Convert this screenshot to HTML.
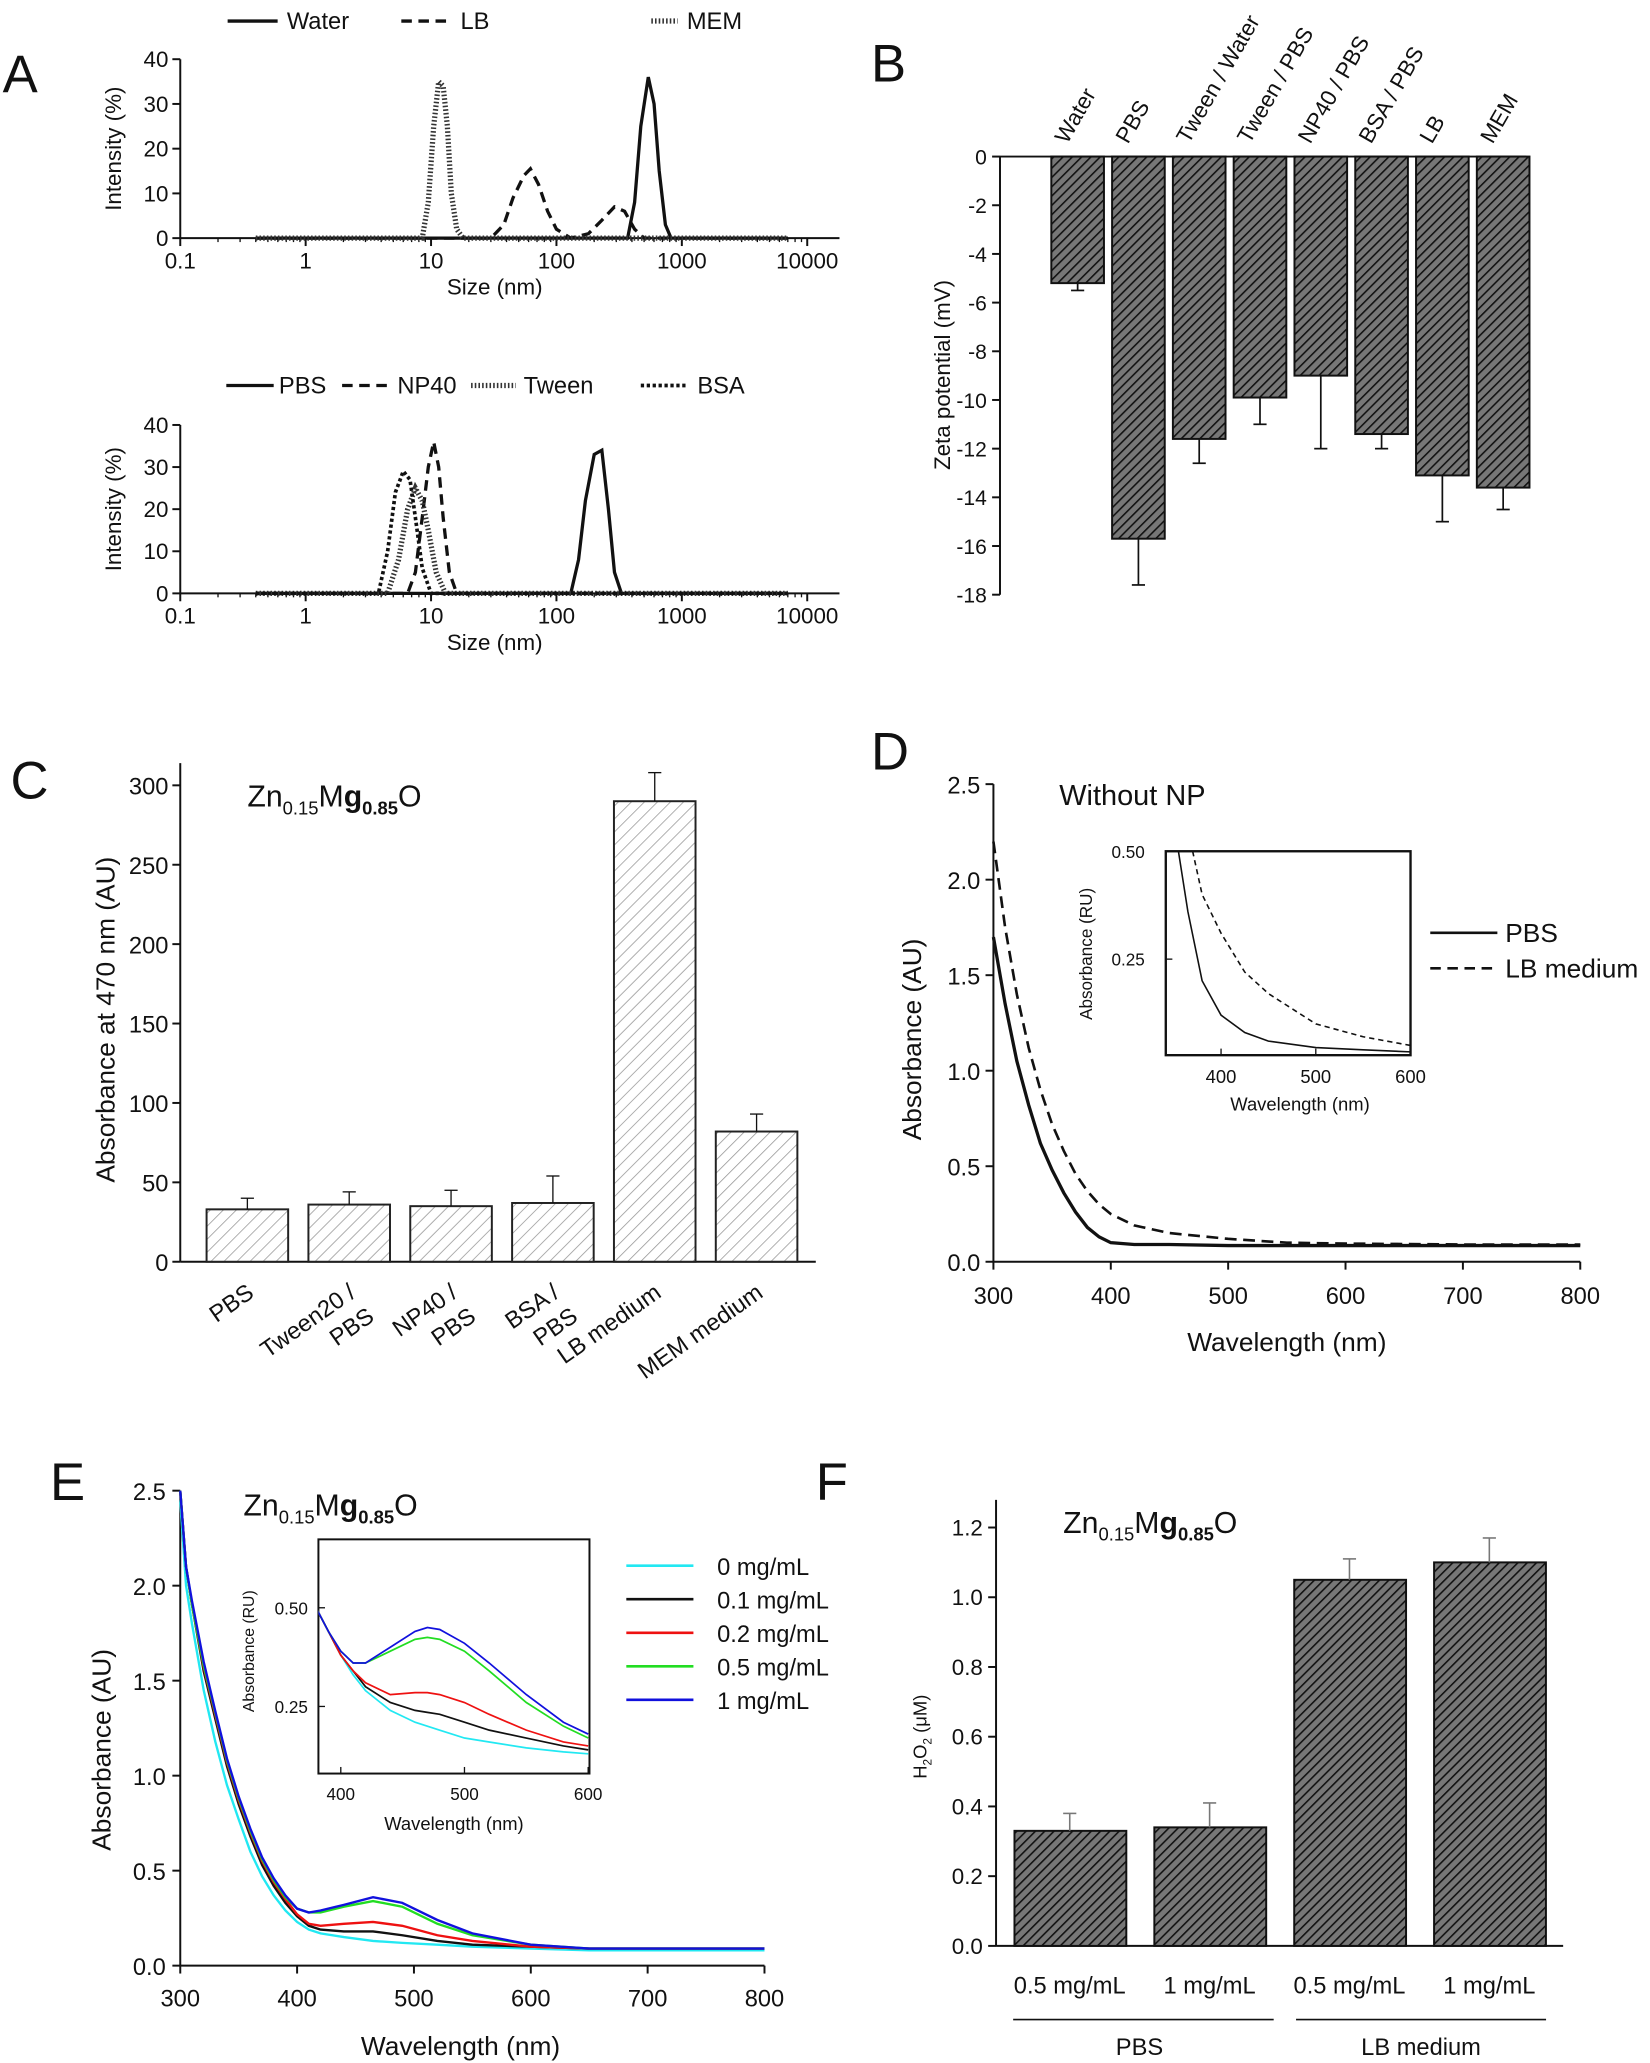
<!DOCTYPE html>
<html><head><meta charset="utf-8">
<style>
html,body{margin:0;padding:0;background:#fff;}
svg{display:block;font-family:"Liberation Sans",Arial,sans-serif;}
</style></head>
<body>
<svg id="fig" width="1650" height="2063" viewBox="0 0 1254 1568" preserveAspectRatio="none" xmlns="http://www.w3.org/2000/svg">
<defs>
<pattern id="hatchDark" patternUnits="userSpaceOnUse" width="5" height="5" patternTransform="rotate(45)">
<rect width="5" height="5" fill="#777"/><line x1="0" y1="0" x2="0" y2="5" stroke="#111" stroke-width="2.4"/></pattern>
<pattern id="hatchLight" patternUnits="userSpaceOnUse" width="7" height="7" patternTransform="rotate(45)">
<rect width="7" height="7" fill="#fff"/><line x1="0" y1="0" x2="0" y2="7" stroke="#999" stroke-width="1.2"/></pattern>
<clipPath id="clipD"><rect x="886" y="647" width="186" height="155"/></clipPath>
<clipPath id="clipE"><rect x="242" y="1170" width="206" height="178"/></clipPath>
</defs>
<g font-size="40" fill="#111">
<text x="2" y="70">A</text>
<text x="662" y="62">B</text>
<text x="8" y="607">C</text>
<text x="662" y="585">D</text>
<text x="38" y="1140">E</text>
<text x="620" y="1140">F</text>
</g>
<g id="root"></g>
</svg>
<script>
// ---------- DATA ----------
const aWaterSize=[0.4,370,420,470,540,600,660,740,820,900,7000];
const aWaterVal=[0,0,8,25,36,30,15,3,0,0,0];
const aLBSize=[0.4,30,38,45,55,62,72,85,100,130,180,230,290,350,420,500,7000];
const aLBVal=[0,0,3,9,14,15.5,12,6,2,0,1,4,7,6,2,0,0];
const aMEMSize=[0.4,8.5,9.5,10.5,11.5,12.5,13.5,14.5,16,18,7000];
const aMEMVal=[0,0,8,25,35,34,25,10,2,0,0];
const a2PBSSize=[0.4,130,150,170,200,230,260,290,330,7000];
const a2PBSVal=[0,0,8,22,33,34,20,5,0,0];
const a2NPSize=[0.4,6.5,7.5,8.5,9.5,10.5,11.5,12.5,14,16,7000];
const a2NPVal=[0,0,5,18,30,36,30,18,5,0,0];
const a2TwSize=[0.4,4.5,5.5,6.5,7.5,8.5,9.5,11,13,7000];
const a2TwVal=[0,0,8,20,25,22,15,5,0,0];
const a2BSASize=[0.4,3.8,4.5,5.2,6,6.8,7.5,8.5,10,7000];
const a2BSAVal=[0,0,10,24,29,27,18,6,0,0];
const aSizeTicks=[0.1,1,10,100,1000,10000];
const aSizeTickLabels=["0.1","1","10","100","1000","10000"];
const aIntTicks=[0,10,20,30,40];
const bCats=["Water","PBS","Tween / Water","Tween / PBS","NP40 / PBS","BSA / PBS","LB","MEM"];
const bVals=[-5.2,-15.7,-11.6,-9.9,-9.0,-11.4,-13.1,-13.6];
const bErr=[0.3,1.9,1.0,1.1,3.0,0.6,1.9,0.9];
const bTicks=[0,-2,-4,-6,-8,-10,-12,-14,-16,-18];
const cCats=[["PBS"],["Tween20 /","PBS"],["NP40 /","PBS"],["BSA /","PBS"],["LB medium"],["MEM medium"]];
const cVals=[33,36,35,37,290,82];
const cErr=[7,8,10,17,18,11];
const cTicks=[0,50,100,150,200,250,300];
const dWl=[300,310,320,330,340,350,360,370,380,390,400,420,450,500,550,600,700,800];
const dPBS=[1.7,1.35,1.05,0.82,0.62,0.48,0.36,0.26,0.18,0.13,0.1,0.09,0.09,0.085,0.085,0.085,0.085,0.085];
const dLB=[2.2,1.75,1.4,1.12,0.9,0.72,0.58,0.46,0.37,0.3,0.25,0.19,0.15,0.12,0.1,0.095,0.09,0.09];
const dInsWl=[340,350,355,365,380,400,425,450,500,550,600];
const dInsPBS=[0.9,0.6,0.5,0.36,0.2,0.12,0.08,0.06,0.045,0.04,0.035];
const dInsLB=[1.2,0.8,0.66,0.55,0.4,0.31,0.22,0.17,0.1,0.07,0.05];
const dYTicks=[0,0.5,1,1.5,2,2.5];
const dXTicks=[300,400,500,600,700,800];
const eWl=[300,305,310,320,330,340,350,360,370,380,390,400,410,420,440,465,490,520,550,600,650,700,800];
const e0=[2.45,2.0,1.8,1.45,1.18,0.95,0.77,0.6,0.47,0.37,0.29,0.23,0.19,0.17,0.15,0.13,0.12,0.11,0.1,0.09,0.08,0.08,0.08];
const e01=[2.5,2.1,1.9,1.55,1.3,1.05,0.85,0.68,0.53,0.42,0.33,0.26,0.21,0.19,0.18,0.18,0.16,0.13,0.11,0.1,0.09,0.09,0.09];
const e02=[2.5,2.1,1.9,1.57,1.32,1.07,0.87,0.7,0.55,0.44,0.35,0.27,0.22,0.21,0.22,0.23,0.21,0.16,0.13,0.1,0.09,0.09,0.09];
const e05=[2.5,2.1,1.9,1.58,1.33,1.08,0.88,0.71,0.56,0.45,0.36,0.3,0.28,0.28,0.31,0.34,0.31,0.22,0.16,0.11,0.09,0.09,0.09];
const e1=[2.5,2.1,1.92,1.6,1.34,1.09,0.89,0.72,0.57,0.46,0.37,0.3,0.28,0.29,0.32,0.36,0.33,0.24,0.17,0.11,0.09,0.09,0.09];
const eInsWl=[380,390,400,410,420,440,460,470,480,500,520,550,580,600];
const eI0=[0.5,0.44,0.38,0.33,0.29,0.24,0.21,0.2,0.19,0.17,0.16,0.145,0.135,0.13];
const eI01=[0.5,0.44,0.38,0.34,0.3,0.26,0.24,0.235,0.23,0.21,0.19,0.17,0.15,0.14];
const eI02=[0.5,0.44,0.38,0.34,0.31,0.28,0.285,0.285,0.28,0.26,0.23,0.19,0.16,0.15];
const eI05=[0.5,0.44,0.39,0.36,0.36,0.39,0.42,0.425,0.42,0.39,0.34,0.26,0.2,0.17];
const eI1=[0.5,0.44,0.39,0.36,0.36,0.4,0.44,0.45,0.445,0.41,0.36,0.28,0.21,0.18];
const eLegend=["0 mg/mL","0.1 mg/mL","0.2 mg/mL","0.5 mg/mL","1 mg/mL"];
const fCats=["0.5 mg/mL","1 mg/mL","0.5 mg/mL","1 mg/mL"];
const fVals=[0.33,0.34,1.05,1.10];
const fErr=[0.05,0.07,0.06,0.07];
const fTicks=[0,0.2,0.4,0.6,0.8,1.0,1.2];

// ---------- helpers ----------
const NS="http://www.w3.org/2000/svg";
const root=document.getElementById('root');
function mk(tag,attrs,parent){const e=document.createElementNS(NS,tag);for(const k in attrs)e.setAttribute(k,attrs[k]);(parent||root).appendChild(e);return e;}
function txt(x,y,s,size,anchor,extra){const e=mk('text',Object.assign({x:x,y:y,'font-size':size,'text-anchor':anchor||'middle',fill:'#111'},extra||{}));e.textContent=s;return e;}
function line(x1,y1,x2,y2,w){return mk('line',{x1:x1,y1:y1,x2:x2,y2:y2,stroke:'#111','stroke-width':w||1.5});}
function poly(xs,ys,fx,fy,style){return mk('polyline',Object.assign({points:xs.map((v,i)=>fx(v).toFixed(1)+','+fy(ys[i]).toFixed(1)).join(' '),fill:'none'},style));}

// ---------- Panel A ----------
const xA=v=>137+(Math.log10(v)+1)*95.3;
const yA1=v=>181-v*3.4;
const yA2=v=>451-v*3.2;
function axesA(yf,y0,ytop,tag){
  line(137,ytop,137,y0);line(137,y0,638,y0);
  aIntTicks.forEach(t=>{line(131,yf(t),137,yf(t));const e=txt(128,yf(t)+6,String(t),17,'end');
    
    });
  aSizeTicks.forEach((t,i)=>{line(xA(t),y0,xA(t),y0+6);const e=txt(xA(t),y0+23,aSizeTickLabels[i],17);
    
    
    if(i<aSizeTicks.length-1)for(let m=2;m<10;m++)line(xA(t*m),y0,xA(t*m),y0+3,1);});
  const yt=txt(92,(y0+ytop)/2,'Intensity (%)',17,'middle',{transform:`rotate(-90 92 ${(y0+ytop)/2})`});
  
  
  const xt=txt(376,y0+43,'Size (nm)',17);
  
  
}
axesA(yA1,181,45,'a-top');
axesA(yA2,451,323,'a-bottom');
const sSolid={stroke:'#111','stroke-width':2.5};
const sDash={stroke:'#111','stroke-width':2.5,'stroke-dasharray':'8,5'};
const sStripe={stroke:'#333','stroke-width':4,'stroke-dasharray':'1.2,1.6'};
const sDot={stroke:'#111','stroke-width':2.8,'stroke-dasharray':'2.5,2'};
let p;
p=poly(aWaterSize,aWaterVal,xA,yA1,sSolid);


p=poly(aLBSize,aLBVal,xA,yA1,sDash);


p=poly(aMEMSize,aMEMVal,xA,yA1,sStripe);


p=poly(a2PBSSize,a2PBSVal,xA,yA2,sSolid);


p=poly(a2NPSize,a2NPVal,xA,yA2,sDash);


p=poly(a2TwSize,a2TwVal,xA,yA2,sStripe);


p=poly(a2BSASize,a2BSAVal,xA,yA2,sDot);


[[173,211,16,218,'Water',sSolid],[305,343,16,350,'LB',sDash],[495,515,16,522,'MEM',sStripe],
 [172,208,293,212,'PBS',sSolid],[260,298,293,302,'NP40',sDash],[358,392,293,398,'Tween',sStripe],[487,523,293,530,'BSA',sDot]]
 .forEach(l=>{const g=mk('g',{});
   
   
   mk('line',Object.assign({x1:l[0],y1:l[2],x2:l[1],y2:l[2]},l[5]),g);
   const t=mk('text',{x:l[3],y:l[2]+6,'font-size':18,fill:'#111'},g);t.textContent=l[4];});

// ---------- Panel B ----------
const yB=v=>119-v*18.5;
const bX=i=>819+i*46.2;
line(760,119,1160,119);line(760,119,760,452);
bTicks.forEach(t=>{line(754,yB(t),760,yB(t));const e=txt(750,yB(t)+6,String(t),16,'end');
  
  });
bVals.forEach((v,i)=>{
  const r=mk('rect',{x:bX(i)-20,y:119,width:40,height:yB(v)-119,fill:'url(#hatchDark)',stroke:'#111','stroke-width':1.5});
  
  
  line(bX(i),yB(v),bX(i),yB(v-bErr[i]),1.3);line(bX(i)-5,yB(v-bErr[i]),bX(i)+5,yB(v-bErr[i]),1.3);
  const t=txt(bX(i)-8,110,bCats[i],17,'start',{transform:`rotate(-60 ${bX(i)-8} 110)`});
  
  
});
p=txt(722,285,'Zeta potential (mV)',17,'middle',{transform:'rotate(-90 722 285)'});



// ---------- Panel C ----------
const yC=v=>959-v*1.207;
const cX=i=>188+i*77.4;
line(137,580,137,959);line(137,959,620,959);
cTicks.forEach(t=>{line(131,yC(t),137,yC(t));const e=txt(128,yC(t)+7,String(t),18,'end');
  
  });
cVals.forEach((v,i)=>{
  const r=mk('rect',{x:cX(i)-31,y:yC(v),width:62,height:959-yC(v),fill:'url(#hatchLight)',stroke:'#222','stroke-width':1.5});
  
  
  line(cX(i),yC(v),cX(i),yC(v+cErr[i]),1);line(cX(i)-5,yC(v+cErr[i]),cX(i)+5,yC(v+cErr[i]),1);
  const lines=cCats[i];
  lines.forEach((s,j)=>{const x=cX(i)+6+j*14,y=985+j*18;
    const t=txt(x,y,s,18,'end',{transform:`rotate(-35 ${x} ${y})`});
    
    });
});
p=txt(87,775,'Absorbance  at 470 nm  (AU)',20,'middle',{transform:'rotate(-90 87 775)'});


function formula(x,y,name){const t=mk('text',{x:x,y:y,'font-size':23,fill:'#111'});
  
  
  t.innerHTML='Zn<tspan font-size="14" dy="6">0.15</tspan><tspan dy="-6">M</tspan><tspan font-weight="bold">g</tspan><tspan font-size="14" font-weight="bold" dy="6">0.85</tspan><tspan dy="-6">O</tspan>';}
formula(188,613,'c-formula');

// ---------- Panel D ----------
const xD=w=>755+(w-300)*0.892;
const yD=v=>959-v*145.2;
line(755,596,755,959);line(755,959,1201,959);
dYTicks.forEach(t=>{line(749,yD(t),755,yD(t));const e=txt(745,yD(t)+7,t.toFixed(1),18,'end');
  
  });
dXTicks.forEach(t=>{line(xD(t),959,xD(t),965);const e=txt(xD(t),991,String(t),18);
  
  });
p=poly(dWl,dPBS,xD,yD,{stroke:'#111','stroke-width':2.5});


p=poly(dWl,dLB,xD,yD,{stroke:'#111','stroke-width':2,'stroke-dasharray':'9,5'});


p=txt(700,790,'Absorbance (AU)',20,'middle',{transform:'rotate(-90 700 790)'});


p=txt(978,1027,'Wavelength (nm)',20);


p=txt(805,612,'Without NP',22,'start');


line(1087,709,1138,709,2);line(1087,736,1138,736,2).setAttribute('stroke-dasharray','8,5');
p=txt(1144,716,'PBS',20,'start');


p=txt(1144,743,'LB medium',20,'start');


const xDI=w=>928+(w-400)*0.72;
const yDI=v=>647+(0.5-v)*328;
mk('rect',{x:886,y:647,width:186,height:155,fill:'#fff',stroke:'#111','stroke-width':1.8});
[400,500,600].forEach(t=>{line(xDI(t),802,xDI(t),797,1);txt(xDI(t),823,String(t),14);});
[[0.5,'0.50'],[0.25,'0.25']].forEach(t=>{line(886,yDI(t[0]),891,yDI(t[0]),1);txt(870,yDI(t[0])+5,t[1],13,'end');});
const gD=mk('g',{'clip-path':'url(#clipD)'});
p=poly(dInsWl,dInsPBS,xDI,yDI,{stroke:'#111','stroke-width':1.2});gD.appendChild(p);


p=poly(dInsWl,dInsLB,xDI,yDI,{stroke:'#111','stroke-width':1.2,'stroke-dasharray':'4,3'});gD.appendChild(p);


txt(830,725,'Absorbance (RU)',13,'middle',{transform:'rotate(-90 830 725)'});
txt(988,844,'Wavelength (nm)',14);

// ---------- Panel E ----------
const xE=w=>137+(w-300)*0.888;
const yE=v=>1494-v*144.4;
line(137,1133,137,1494);line(137,1494,581,1494);
dYTicks.forEach(t=>{line(131,yE(t),137,yE(t));const e=txt(126,yE(t)+7,t.toFixed(1),18,'end');
  
  });
dXTicks.forEach(t=>{line(xE(t),1494,xE(t),1500);const e=txt(xE(t),1525,String(t),18);
  
  });
const eColors=['#22e8f2','#111','#ee1111','#22dd22','#1111dd'];
const eMain=[e0,e01,e02,e05,e1];
const eIns=[eI0,eI01,eI02,eI05,eI1];
eMain.forEach((s,i)=>{p=poly(eWl,s,xE,yE,{stroke:eColors[i],'stroke-width':1.8});
  
  });
p=txt(84,1330,'Absorbance (AU)',20,'middle',{transform:'rotate(-90 84 1330)'});


p=txt(350,1562,'Wavelength (nm)',20);


formula(185,1152,'e-formula');
eLegend.forEach((s,i)=>{const y=1190+i*25.5;
  mk('line',{x1:476,y1:y,x2:527,y2:y,stroke:eColors[i],'stroke-width':2});
  const t=txt(545,y+7,s,18,'start');
  
  });
const xEI=w=>259+(w-400)*0.94;
const yEI=v=>1222+(0.5-v)*300;
mk('rect',{x:242,y:1170,width:206,height:178,fill:'#fff',stroke:'#111','stroke-width':1.5});
[400,500,600].forEach(t=>{line(xEI(t),1348,xEI(t),1343,1);txt(xEI(t),1368,String(t),13);});
[[0.5,'0.50'],[0.25,'0.25']].forEach(t=>{line(242,yEI(t[0]),247,yEI(t[0]),1);txt(234,yEI(t[0])+5,t[1],13,'end');});
const gE=mk('g',{'clip-path':'url(#clipE)'});
eIns.forEach((s,i)=>{p=poly(eInsWl,s,xEI,yEI,{stroke:eColors[i],'stroke-width':1.3});gE.appendChild(p);
  
  });
txt(193,1255,'Absorbance (RU)',12,'middle',{transform:'rotate(-90 193 1255)'});
txt(345,1391,'Wavelength (nm)',14);

// ---------- Panel F ----------
const yF=v=>1479-v*265;
const fX=i=>813+i*106.3;
line(757,1140,757,1479);line(757,1479,1188,1479);
fTicks.forEach(t=>{line(751,yF(t),757,yF(t));const e=txt(747,yF(t)+6,t.toFixed(1),17,'end');
  
  });
fVals.forEach((v,i)=>{
  const r=mk('rect',{x:fX(i)-42,y:yF(v),width:85,height:1479-yF(v),fill:'url(#hatchDark)',stroke:'#111','stroke-width':1.5});
  
  
  mk('line',{x1:fX(i),y1:yF(v),x2:fX(i),y2:yF(v+fErr[i]),stroke:'#777','stroke-width':1.2});
  mk('line',{x1:fX(i)-5,y1:yF(v+fErr[i]),x2:fX(i)+5,y2:yF(v+fErr[i]),stroke:'#777','stroke-width':1.2});
  const t=txt(fX(i),1515,fCats[i],18);
  
  
});
line(770,1535,968,1535,1.2);line(985,1535,1175,1535,1.2);
p=txt(866,1562,'PBS',18);


p=txt(1080,1562,'LB medium',18);


p=mk('text',{x:704,y:1320,'font-size':14,'text-anchor':'middle',fill:'#111',transform:'rotate(-90 704 1320)'});
p.innerHTML='H<tspan font-size="9" dy="4">2</tspan><tspan dy="-4">O</tspan><tspan font-size="9" dy="4">2</tspan><tspan dy="-4">  (μM)</tspan>';


formula(808,1165,'f-formula');
</script>
</body></html>
